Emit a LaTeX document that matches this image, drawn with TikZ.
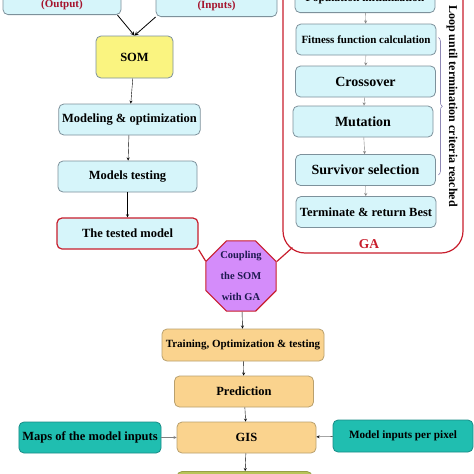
\documentclass[tikz,border=0pt]{standalone}
\usepackage{fontspec}
\setmainfont{Liberation Serif}
\usepackage{xcolor}
\usepackage{tikz}
\usetikzlibrary{shapes.geometric, arrows, positioning, calc, decorations.pathreplacing}
\definecolor{boxcyan}{RGB}{214,245,250}
\definecolor{boxedge}{RGB}{125,145,155}
\definecolor{somyellow}{RGB}{250,244,128}
\definecolor{stageorange}{RGB}{250,211,142}
\definecolor{stageedge}{RGB}{185,160,110}
\definecolor{mapteal}{RGB}{32,190,176}
\definecolor{tealedge}{RGB}{25,140,135}
\definecolor{outgreen}{RGB}{184,196,88}
\definecolor{greenedge}{RGB}{150,160,70}
\definecolor{gared}{RGB}{200,30,45}
\definecolor{labelred}{RGB}{165,20,45}
\definecolor{couplepink}{RGB}{212,140,250}
\definecolor{couplenavy}{RGB}{30,25,80}
\definecolor{bracepurple}{RGB}{80,70,140}
\tikzstyle{datain} = [rectangle, rounded corners=5pt, minimum width=118pt, draw=boxedge, line width=0.8pt, fill=boxcyan, text=labelred, font=\fontsize{11}{13}\selectfont\bfseries]
\tikzstyle{process} = [rectangle, rounded corners=5pt, minimum width=139pt, minimum height=31pt, align=center, draw=boxedge, line width=0.8pt, fill=boxcyan, font=\fontsize{12.5}{14}\selectfont\bfseries]
\tikzstyle{gastep} = [process, minimum width=140pt]
\tikzstyle{stage} = [process, fill=stageorange, draw=stageedge]
\tikzstyle{mapbox} = [process, fill=mapteal, draw=tealedge, minimum width=138pt]
\tikzstyle{coupling} = [regular polygon, regular polygon sides=8, minimum size=76pt, inner sep=0pt, draw=gared, line width=1.2pt, fill=couplepink, text=couplenavy, align=center, font=\fontsize{10.5}{21}\selectfont\bfseries]
\tikzstyle{gaframe} = [rectangle, rounded corners=22pt, minimum width=180pt, minimum height=283pt, draw=gared, line width=1.2pt]
\tikzstyle{arrow} = [thin,->,>=stealth]
\tikzstyle{garrow} = [thin,->,>=stealth, draw=gray]
\tikzstyle{redlink} = [draw=gared, line width=1.2pt]

\begin{document}
\begin{tikzpicture}[x=1pt, y=-1pt, node distance=57pt]
\useasboundingbox (0,0) rectangle (474,474);
\clip (0,0) rectangle (474,474);
\fill[white] (0,0) rectangle (474,474);

% SOM side
\node (output) [datain, anchor=south, text height=30pt, text depth=4pt] at (62,15) {(Output)};
\node (inputs) [datain, anchor=south, minimum width=121pt, text height=30pt, text depth=5pt] at (216.5,17) {(Inputs)};
\node (som) [process, fill=somyellow, minimum width=77pt, minimum height=42pt] at (134.5,57) {SOM};
\node (model) [process, below of=som, xshift=-5pt, yshift=-5.5pt] {Modeling \& optimization};
\node (testing) [process, below of=model, xshift=-2pt] {Models testing};
\node (tested) [process, below of=testing, draw=gared, line width=1.2pt, minimum width=141pt] {The tested model};

% GA side
\node (ga) [gaframe] at (373,111.5) {};
\node (galabel) [text=gared, font=\fontsize{13.5}{15}\selectfont\bfseries] at (369,244) {GA};
\node (pop) [gastep, anchor=south, text height=19.5pt, text depth=7.5pt, font=\fontsize{11.5}{13}\selectfont\bfseries] at (365,13) {Population initialization};
\node (fitness) [gastep, font=\fontsize{11}{13}\selectfont\bfseries] at (366,39.5) {Fitness function calculation};
\node (cross) [gastep, node distance=42pt, below of=fitness, xshift=-0.5pt, font=\fontsize{14}{16}\selectfont\bfseries] {Crossover};
\node (mutate) [gastep, node distance=40pt, below of=cross, xshift=-2.5pt, font=\fontsize{14}{16}\selectfont\bfseries] {Mutation};
\node (survive) [gastep, node distance=48.5pt, below of=mutate, xshift=2.5pt, font=\fontsize{14}{16}\selectfont\bfseries] {Survivor selection};
\node (finish) [gastep, node distance=42pt, below of=survive, xshift=0.5pt] {Terminate \& return Best};
\draw [decorate, decoration={brace, amplitude=4pt}, bracepurple, thin] ($(fitness.east)+(2,-2)$) -- ($(survive.east)+(2.5,5)$);
\node (loop) [rotate=-90, font=\fontsize{12}{14}\selectfont\bfseries] at (452,106) {Loop until termination criteria reached};

% coupling and mapping
\node (couple) [coupling] at (241,276) {Coupling\\the SOM\\with GA};
\node (train) [stage, minimum width=162pt, minimum height=32pt, font=\fontsize{11}{13}\selectfont\bfseries] at (243,345) {Training, Optimization \& testing};
\node (predict) [stage, node distance=46.5pt, below of=train, xshift=1pt] {Prediction};
\node (gis) [stage, node distance=46pt, below of=predict, xshift=2.5pt] {GIS};
\node (result) [stage, node distance=50pt, below of=gis, xshift=-2pt, fill=outgreen, draw=greenedge, minimum width=135pt, minimum height=32pt] {};
\node (maps) [mapbox, node distance=156.5pt, left of=gis] {Maps of the model inputs};
\node (pixel) [mapbox, node distance=156.5pt, right of=gis, yshift=1.5pt, minimum width=140pt, minimum height=32pt, font=\fontsize{11.2}{13}\selectfont\bfseries] {Model inputs per pixel};

\draw [arrow, line width=0.8pt] ($(output.south east)+(-4,0)$) -- (som.north);
\draw [arrow, line width=0.8pt] (inputs.south west) -- (som.north);
\draw [arrow] (som) -- (model);
\draw [arrow] (model) -- (testing);
\draw [arrow] (testing) -- (tested);
\draw [garrow] (pop) -- (fitness);
\draw [garrow] (fitness) -- (cross);
\draw [garrow] (cross) -- (mutate);
\draw [garrow] (mutate) -- (survive);
\draw [garrow] (survive) -- (finish);
\draw [redlink] (tested.south east) -- (couple.157.5);
\draw [redlink] (couple.22.5) -- ($(ga.south west)+(10,-6)$);
\draw [arrow] (couple) -- (train);
\draw [arrow] (train) -- (predict);
\draw [arrow] (predict) -- (gis);
\draw [arrow] (gis) -- (result);
\draw [garrow] (maps) -- (gis);
\draw [arrow] (pixel) -- (gis);
\end{tikzpicture}
\end{document}
